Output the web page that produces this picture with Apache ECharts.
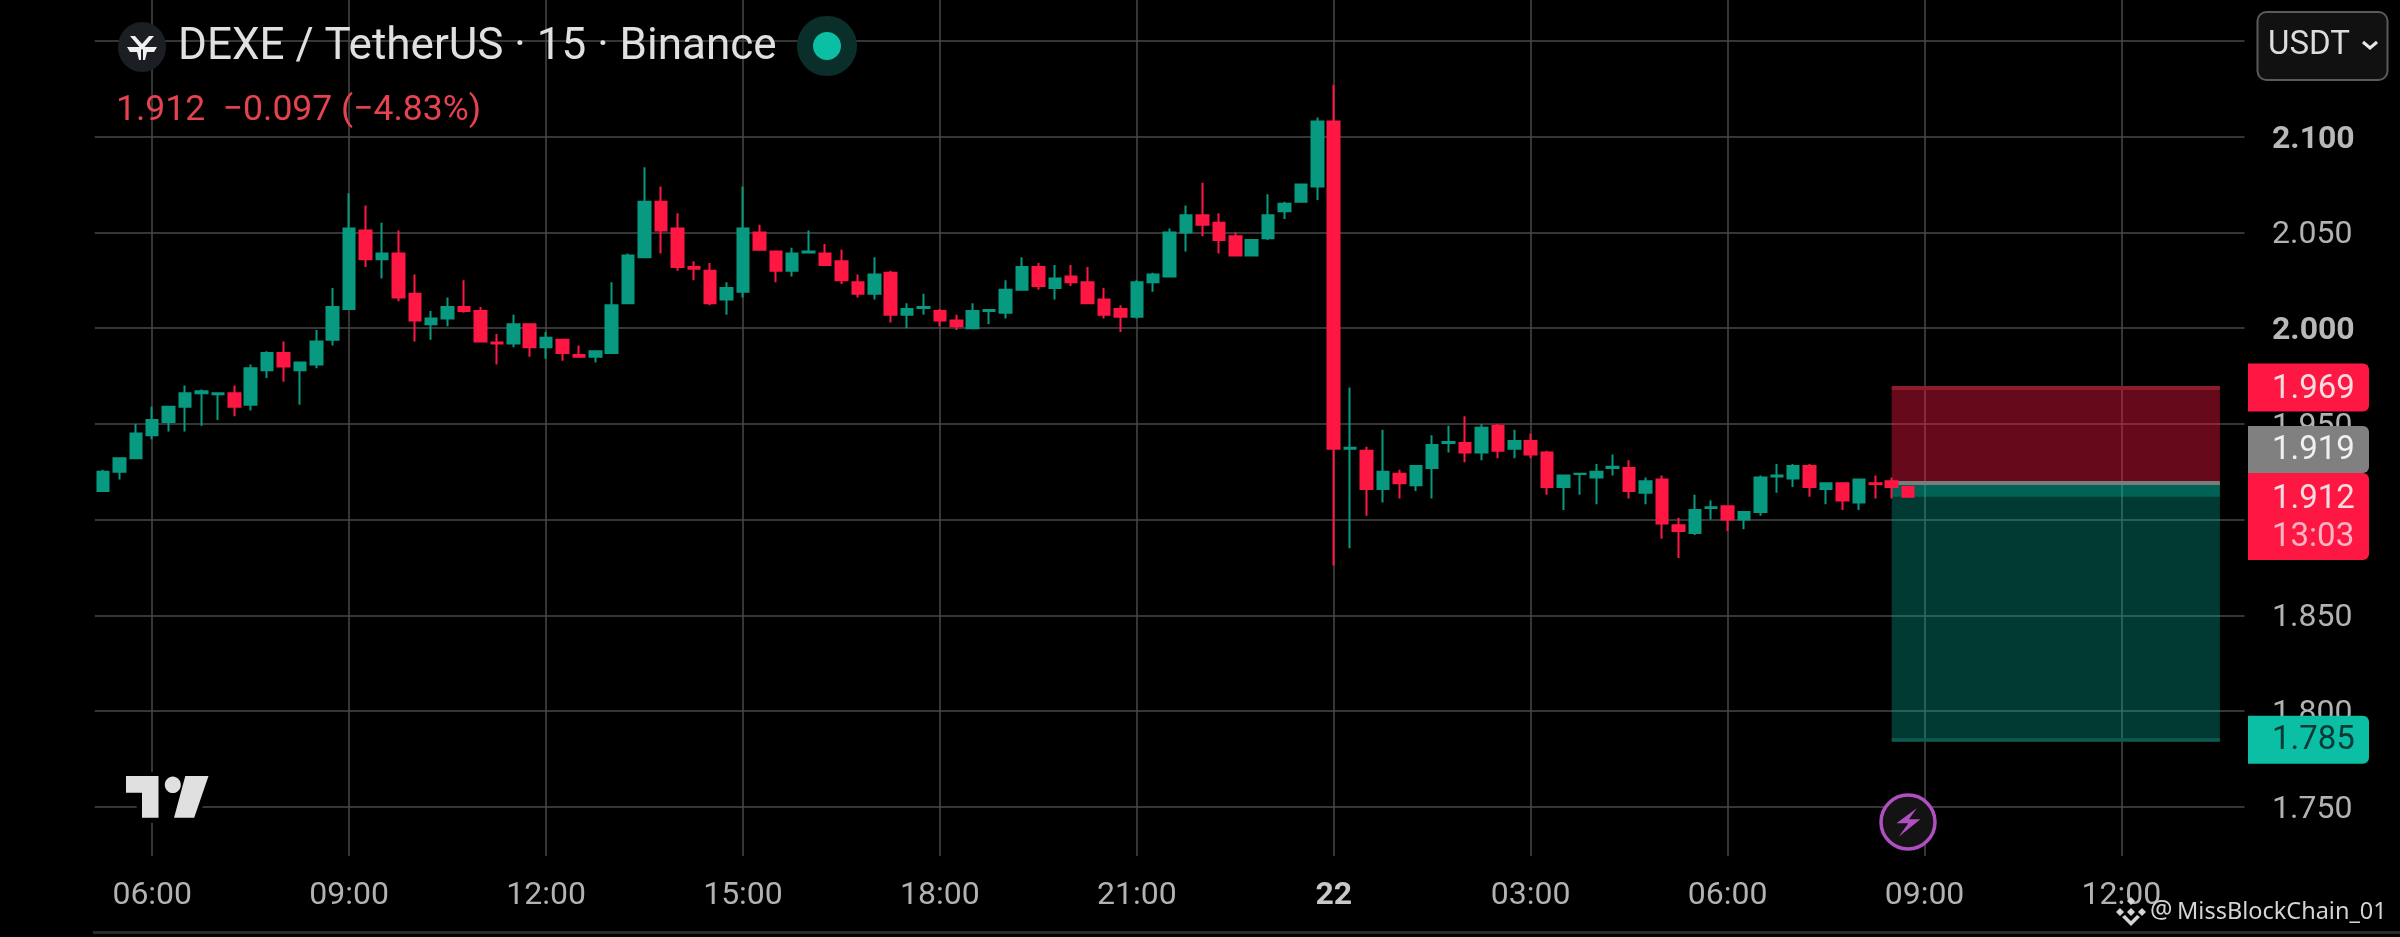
<!DOCTYPE html>
<html><head><meta charset="utf-8">
<style>html,body{margin:0;padding:0;background:#000}#c{width:2400px;height:937px}</style>
<script src="https://cdn.jsdelivr.net/npm/echarts@6/dist/echarts.min.js"></script>
</head><body><div id="c"></div>
<script>
const categories = [
'05:15','05:30','05:45','06:00','06:15','06:30','06:45','07:00','07:15','07:30','07:45','08:00','08:15','08:30','08:45',
'09:00','09:15','09:30','09:45','10:00','10:15','10:30','10:45','11:00','11:15','11:30','11:45','12:00','12:15','12:30','12:45',
'13:00','13:15','13:30','13:45','14:00','14:15','14:30','14:45','15:00','15:15','15:30','15:45','16:00','16:15','16:30','16:45',
'17:00','17:15','17:30','17:45','18:00','18:15','18:30','18:45','19:00','19:15','19:30','19:45','20:00','20:15','20:30','20:45',
'21:00','21:15','21:30','21:45','22:00','22:15','22:30','22:45','23:00','23:15','23:30','23:45',
'22','00:15','00:30','00:45','01:00','01:15','01:30','01:45','02:00','02:15','02:30','02:45',
'03:00','03:15','03:30','03:45','04:00','04:15','04:30','04:45','05:00','05:15b','05:30b','05:45b',
'06:00b','06:15b','06:30b','06:45b','07:00b','07:15b','07:30b','07:45b','08:00b','08:15b','08:30b','08:45b',
'09:00b','09:15b','09:30b','09:45b','10:00b','10:15b','10:30b','10:45b','11:00b','11:15b','11:30b','11:45b',
'12:00b','12:15b','12:30b','12:45b','13:00b','13:15b','13:30b','13:45b'];
const tickLabels = ['06:00','09:00','12:00','15:00','18:00','21:00','22','03:00','06:00b','09:00b','12:00b'];
// [open, close, low, high]
const candles = [
[1.915,1.925,1.915,1.926],[1.925,1.932,1.921,1.932],[1.932,1.945,1.932,1.950],[1.944,1.952,1.942,1.959],
[1.951,1.959,1.946,1.959],[1.959,1.966,1.946,1.970],[1.966,1.967,1.949,1.968],[1.9655,1.966,1.952,1.9665],
[1.966,1.959,1.954,1.970],[1.960,1.979,1.957,1.981],[1.978,1.987,1.974,1.988],[1.987,1.980,1.972,1.993],
[1.978,1.982,1.960,1.982],[1.981,1.993,1.979,1.999],[1.994,2.011,1.991,2.021],[2.010,2.052,2.010,2.0705],
[2.051,2.036,2.032,2.064],[2.036,2.039,2.026,2.055],[2.039,2.016,2.014,2.051],[2.018,2.004,1.993,2.028],
[2.002,2.005,1.994,2.009],[2.005,2.011,2.001,2.016],[2.011,2.009,2.008,2.025],[2.009,1.993,1.993,2.011],
[1.9925,1.992,1.981,1.997],[1.992,2.002,1.990,2.007],[2.002,1.990,1.985,2.002],[1.990,1.995,1.984,1.998],
[1.994,1.987,1.983,1.994],[1.986,1.985,1.985,1.991],[1.985,1.988,1.982,1.988],[1.987,2.012,1.987,2.024],
[2.013,2.038,2.013,2.039],[2.037,2.066,2.037,2.084],[2.066,2.051,2.039,2.074],[2.052,2.032,2.030,2.060],
[2.032,2.031,2.025,2.035],[2.030,2.013,2.012,2.034],[2.015,2.021,2.007,2.024],[2.019,2.052,2.016,2.074],
[2.050,2.041,2.041,2.054],[2.040,2.030,2.024,2.040],[2.030,2.039,2.027,2.042],[2.0395,2.040,2.039,2.051],
[2.039,2.033,2.033,2.044],[2.035,2.025,2.023,2.041],[2.024,2.018,2.016,2.028],[2.018,2.028,2.015,2.037],
[2.029,2.007,2.003,2.030],[2.007,2.010,2.000,2.013],[2.0105,2.011,2.007,2.018],[2.009,2.004,2.001,2.010],
[2.004,2.001,1.999,2.007],[2.000,2.009,2.000,2.013],[2.009,2.0095,2.002,2.0095],[2.008,2.020,2.005,2.025],
[2.020,2.032,2.020,2.037],[2.032,2.022,2.020,2.034],[2.021,2.026,2.015,2.033],[2.027,2.024,2.022,2.033],
[2.024,2.013,2.013,2.032],[2.015,2.007,2.005,2.021],[2.010,2.006,1.998,2.012],[2.006,2.024,2.005,2.025],
[2.024,2.028,2.019,2.029],[2.027,2.050,2.027,2.052],[2.050,2.059,2.040,2.064],[2.059,2.054,2.048,2.076],
[2.055,2.046,2.039,2.060],[2.048,2.038,2.038,2.050],[2.038,2.046,2.038,2.046],[2.047,2.059,2.046,2.070],
[2.061,2.065,2.057,2.066],[2.066,2.075,2.066,2.075],[2.074,2.108,2.067,2.110],[2.108,1.937,1.876,2.127],
[1.937,1.9375,1.885,1.969],[1.936,1.916,1.902,1.938],[1.916,1.925,1.909,1.947],[1.924,1.919,1.911,1.926],
[1.918,1.928,1.915,1.928],[1.927,1.939,1.911,1.944],[1.940,1.9406,1.935,1.949],[1.940,1.935,1.930,1.954],
[1.935,1.948,1.931,1.950],[1.949,1.936,1.932,1.950],[1.937,1.941,1.932,1.947],[1.941,1.934,1.932,1.945],
[1.935,1.917,1.913,1.936],[1.917,1.923,1.905,1.923],[1.9238,1.924,1.913,1.924],[1.922,1.925,1.908,1.929],
[1.927,1.9276,1.923,1.934],[1.927,1.915,1.911,1.931],[1.914,1.920,1.908,1.922],[1.921,1.898,1.890,1.923],
[1.897,1.894,1.880,1.901],[1.893,1.905,1.892,1.913],[1.906,1.9065,1.900,1.910],[1.907,1.900,1.894,1.907],
[1.900,1.904,1.895,1.904],[1.904,1.922,1.902,1.923],[1.9225,1.923,1.914,1.929],[1.9215,1.928,1.917,1.929],
[1.928,1.917,1.912,1.929],[1.916,1.919,1.908,1.919],[1.919,1.910,1.905,1.919],[1.909,1.921,1.905,1.921],
[1.919,1.9186,1.911,1.923],[1.920,1.917,1.911,1.922],[1.917,1.912,1.912,1.917]];
const yTicks = [1.75,1.80,1.85,1.90,1.95,2.00,2.05,2.10,2.15];
const boldTicks = ['2.100','2.000'];
const stopPrice = 1.969, entryPrice = 1.919, lastPrice = 1.912, targetPrice = 1.785;
const toolStart = '08:30b', toolEnd = '13:30b';
const countdown = '13:03';
const titleText = 'DEXE / TetherUS · 15 · Binance';
const quoteText = '1.912  \u22120.097 (\u22124.83%)';

const GREEN='#089981', RED='#ff1744', FONT='Roboto';
const chart = echarts.init(document.getElementById('c'), null, {renderer:'canvas'});
const tickIndex = new Set(tickLabels);
const showTick = (i, v) => tickIndex.has(v);
const line = (p, color, width) => [
  {xAxis:toolStart, yAxis:p, lineStyle:{color, width, type:'solid'}},
  {xAxis:toolEnd, yAxis:p}];
chart.setOption({
  animation:false, backgroundColor:'#000',
  grid:{left:94.8, right:155.5, top:0, height:856, containLabel:false},
  xAxis:{type:'category', data:categories, boundaryGap:true,
    axisLine:{show:false}, axisTick:{show:false},
    axisLabel:{interval:showTick, margin:24, color:'#b2b2b2', fontFamily:FONT, fontSize:32, hideOverlap:false,
      formatter:v => v==='22' ? '{b|22}' : v.replace('b',''),
      rich:{b:{fontFamily:FONT,fontSize:32,fontWeight:'bold',color:'#c8c8c8'}}},
    splitLine:{show:true, alignWithLabel:true, interval:showTick, lineStyle:{color:'#484848', width:1.5}}},
  yAxis:{type:'value', position:'right', min:1.7243, max:2.1714, scale:true,
    axisLine:{show:false},
    axisTick:{show:false, customValues:yTicks},
    axisLabel:{customValues:yTicks.slice(0,8), margin:27.5, align:'left', color:'#b2b2b2', fontFamily:FONT, fontSize:32, hideOverlap:false,
      padding:[6,0,0,0],
      formatter:v => { const s=(+v).toFixed(3); return boldTicks.includes(s) ? '{b|'+s+'}' : s; },
      rich:{b:{fontFamily:FONT,fontSize:32,fontWeight:'bold',color:'#b8b8b8'}}},
    splitLine:{show:true, lineStyle:{color:'#484848', width:1.5}}},
  series:[{type:'candlestick', data:candles, barWidth:12,
    itemStyle:{color:GREEN, color0:RED, borderColor:GREEN, borderColor0:RED, borderWidth:2},
    markArea:{silent:true, z:1, label:{show:false}, data:[
      [{xAxis:toolStart,yAxis:stopPrice,itemStyle:{color:'rgba(255,23,68,0.4)'}},{xAxis:toolEnd,yAxis:entryPrice}],
      [{xAxis:toolStart,yAxis:entryPrice,itemStyle:{color:'rgba(0,191,165,0.3)'}},{xAxis:toolEnd,yAxis:targetPrice}],
      [{xAxis:toolStart,yAxis:entryPrice,itemStyle:{color:'rgba(0,191,165,0.3)'}},{xAxis:toolEnd,yAxis:lastPrice}]
    ]},
    markLine:{silent:true, z:1, symbol:'none', label:{show:false}, animation:false, data:[
      line(stopPrice,'#8e1c2d',4), line(entryPrice,'#7b7b7b',4), line(targetPrice,'#0f5b50',3.5)
    ]}
  }]
});
const py = p => chart.convertToPixel({yAxisIndex:0}, p);
const box = (top, h, fill) => ({type:'rect', z:50, shape:{x:2248,y:top,width:121,height:h,r:[0,6,6,0]}, style:{fill}});
const label = (txt, cy, fill) => ({type:'text', z:51, style:{text:txt,x:2272,y:cy,fill,font:'33px '+FONT,textAlign:'left',textVerticalAlign:'middle'}});
const poly = (points, fill, z) => ({type:'polygon', z:z||60, shape:{points}, style:{fill}});
const yStop=py(stopPrice), yEntry=py(entryPrice), yLast=py(lastPrice), yTarget=py(targetPrice);
const wm='#d4d4d4';
chart.setOption({graphic:{elements:[
  // header
  {type:'ellipse', z:60, shape:{cx:142,cy:47,rx:24,ry:25}, style:{fill:'#1b1f23'}},
  poly([[130,36],[135,36],[142,44],[149,36],[154,36],[142,50]],'#f0f0f0',61),
  poly([[127,47],[141,47],[141,60],[139,60],[137,52],[130,52]],'#f0f0f0',61),
  poly([[157,47],[143,47],[143,60],[145,60],[147,52],[154,52]],'#f0f0f0',61),
  {type:'text', z:60, style:{text:titleText,x:178,y:48,fill:'#e0e0e0',font:'44px '+FONT,textVerticalAlign:'middle'}},
  {type:'ellipse', z:60, shape:{cx:827,cy:46,rx:30,ry:30}, style:{fill:'#0a2f2b'}},
  {type:'ellipse', z:61, shape:{cx:827,cy:46,rx:14,ry:14}, style:{fill:'#0bbfa5'}},
  {type:'text', z:60, style:{text:quoteText,x:116,y:111,fill:'#e5434f',font:'35.5px '+FONT,textVerticalAlign:'middle'}},
  // USDT
  {type:'rect', z:60, shape:{x:2257.5,y:12,width:130,height:68,r:9}, style:{fill:'#111',stroke:'#5a5a5a',lineWidth:2}},
  {type:'text', z:61, style:{text:'USDT',x:2268,y:46,fill:'#dcdcdc',font:'33px '+FONT,textVerticalAlign:'middle'}},
  {type:'polyline', z:61, shape:{points:[[2363,42],[2370,48],[2377,42]]}, style:{stroke:'#e8e8e8',lineWidth:3,fill:'none'}},
  // price tags
  box(yStop-24,48,RED), label(stopPrice.toFixed(3),yStop+2,'#f6dbe0'),
  box(426,47,'#808080'), label(entryPrice.toFixed(3),451,'#f0f0f0'),
  box(473,87,RED), label(lastPrice.toFixed(3),yLast+3,'#f6dbe0'), label(countdown,538,'#f5b5c2'),
  box(yTarget-24,48,'#0bbfa5'), label(targetPrice.toFixed(3),yTarget+1,'#0a3a35'),
  // TV logo
  poly([[121.4,772],[215,772],[197,822.7],[136.7,822.7],[136.7,797],[121.4,797]],'#000',60),
  poly([[126,776],[158.5,776],[158.5,817.7],[142,817.7],[142,792.7],[126,792.7]],'#e0e0e0',61),
  {type:'ellipse', z:61, shape:{cx:172.8,cy:784.7,rx:8,ry:8.3}, style:{fill:'#e0e0e0'}},
  poly([[185.3,776],[208.5,776],[194.2,817.7],[174,817.7]],'#e0e0e0',61),
  // lightning
  {type:'circle', z:60, shape:{cx:1908,cy:822,r:27}, style:{fill:'#131313',stroke:'#b04fc0',lineWidth:3.5}},
  poly([[1916.7,808.3],[1896.4,823.3],[1908.3,823.3],[1898.7,836.7],[1920.5,819.3],[1909,819.3]],'#b04fc0',61),
  // footer
  {type:'rect', z:40, shape:{x:93,y:931,width:2307,height:3}, style:{fill:'#2a2a2a'}},
  poly([[2131,897],[2135,901],[2131,905],[2127,901]],wm),
  poly([[2131,908],[2135,912],[2131,916],[2127,912]],wm),
  poly([[2120,908],[2124,912],[2120,916],[2116,912]],wm),
  poly([[2142,908],[2146,912],[2142,916],[2138,912]],wm),
  poly([[2122,917],[2125,915],[2131,921],[2137,915],[2140,917],[2131,926]],wm),
  {type:'text', z:60, style:{text:'@',x:2150,y:911,fill:wm,font:'25px "Noto Sans"',textVerticalAlign:'middle'}},
  {type:'text', z:60, style:{text:'MissBlockChain_01',x:2177,y:912,fill:wm,font:'23.5px "Noto Sans"',textVerticalAlign:'middle'}}
]}});
</script></body></html>
